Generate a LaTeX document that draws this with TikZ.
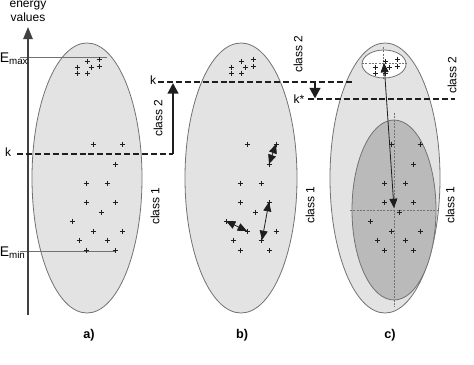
\documentclass[tikz,border=0pt]{standalone}
\usepackage{fontspec}
\setmainfont{Liberation Sans}
\usetikzlibrary{arrows.meta}
\definecolor{grisClaro}{HTML}{E3E3E3}
\definecolor{grisOscuro}{HTML}{BABABA}
\definecolor{grisBorde}{HTML}{727272}
\definecolor{negroP}{HTML}{1E1E1E}

\begin{document}
\begin{tikzpicture}[x=0.75pt,y=-0.75pt,>={Triangle[length=7pt,width=6pt]},
  nube/.style={fill=grisClaro,draw=grisBorde,line width=0.6pt},
  umbral/.style={negroP,line width=1.2pt,dash pattern=on 4.5pt off 2.2pt},
  clase/.style={negroP,line width=1.7pt,-{Triangle[length=8pt,width=8pt]}},
  mueve/.style={negroP,line width=0.6pt,<->},
  cruz/.style={grisBorde,line width=0.4pt,dash pattern=on 1.5pt off 1pt},
  etq/.style={font=\fontsize{9}{10.5}\selectfont,inner sep=1pt}]
  \useasboundingbox (0,0) rectangle (474,364);
  \draw[nube] (87,178) ellipse [x radius=55,y radius=135];
  \draw[nube] (241,178) ellipse [x radius=56,y radius=135];
  \draw[nube] (385,178) ellipse [x radius=55,y radius=135];
  \draw[nube,fill=grisOscuro] (394,210) ellipse [x radius=42,y radius=90];
  \draw[nube,fill=white] (384,64) ellipse [x radius=22,y radius=14];
  \draw[cruz] (350,210) -- (437,210) (394,113) -- (394,307);
  \draw[cruz] (362,63) -- (408,63) (383,47) -- (383,80);
  \draw[grisBorde,line width=0.5pt] (20,57) -- (107,57);
  \draw[grisBorde,line width=0.5pt] (20,251) -- (115,251);
  \foreach \dx in {0,154,298}
    \foreach \px/\py in {87/61,99/59,77/67,91/67,99/66,77/73,87/73,93/144,122/144,
        115/164,86/183,107/183,86/202,115/202,101/212,72/221,93/231,122/231,
        79/240,107/240,86/250,115/250}
      \draw[negroP,line width=0.75pt] (\px+\dx-2.5,\py) -- +(5,0)
        (\px+\dx,\py-2.5) -- +(0,5);
  \draw[negroP!85,line width=1.1pt,-{Triangle[length=9pt,width=7pt]}] (28,315) -- (28,27);
  \node[etq,align=center] (eje) at (28,11) {energy\\values};
  \node[anchor=west,inner sep=0pt,font=\fontsize{10.5}{12}\selectfont] (emax) at (-0.5,59)
    {E\textsubscript{max}};
  \node[anchor=west,inner sep=0pt,font=\fontsize{10.5}{12}\selectfont] (emin) at (-0.5,253)
    {E\textsubscript{min}};
  \coordinate (ka) at (17,154);
  \coordinate (kaR) at (173,154);
  \coordinate (kb) at (158,82);
  \coordinate (kbR) at (352,82);
  \coordinate (ks) at (308,99);
  \coordinate (ksR) at (455,99);
  \draw[umbral] (ka) -- (kaR);
  \draw[umbral] (kb) -- (kbR);
  \draw[umbral] (ks) -- (ksR);
  \draw[clase] (kaR) -- (173,83);
  \draw[clase] (315,82) -- (315,98.5);
  \node[etq] (la) at (8,152) {k};
  \node[etq] (lb) at (153,80) {k};
  \node[etq] (lks) at (299,99) {k*};
  \coordinate (b1) at (269,164);
  \coordinate (b1p) at (276,144);
  \coordinate (b2) at (269,202);
  \coordinate (b2p) at (262,240);
  \coordinate (b3) at (226,221);
  \coordinate (b3p) at (247,231);
  \coordinate (cA) at (384,63);
  \coordinate (cB) at (394,208);
  \draw[mueve] (b1) -- (b1p);
  \draw[mueve] (b2) -- (b2p);
  \draw[mueve] (b3) -- (b3p);
  \draw[mueve] (cA) -- (cB);
  \node[etq,rotate=90] (a2) at (158,118) {class 2};
  \node[etq,rotate=90] (a1) at (155,206) {class 1};
  \node[etq,rotate=90] (b2l) at (298,54) {class 2};
  \node[etq,rotate=90] (b1l) at (310,205) {class 1};
  \node[etq,rotate=90] (c2l) at (452,75) {class 2};
  \node[etq,rotate=90] (c1l) at (450,205) {class 1};
  \node[etq,font=\fontsize{9.5}{10.5}\selectfont\bfseries] (pa) at (89,335) {a)};
  \node[etq,font=\fontsize{9.5}{10.5}\selectfont\bfseries] (pb) at (242,335) {b)};
  \node[etq,font=\fontsize{9.5}{10.5}\selectfont\bfseries] (pc) at (390,335) {c)};
\end{tikzpicture}
\end{document}
